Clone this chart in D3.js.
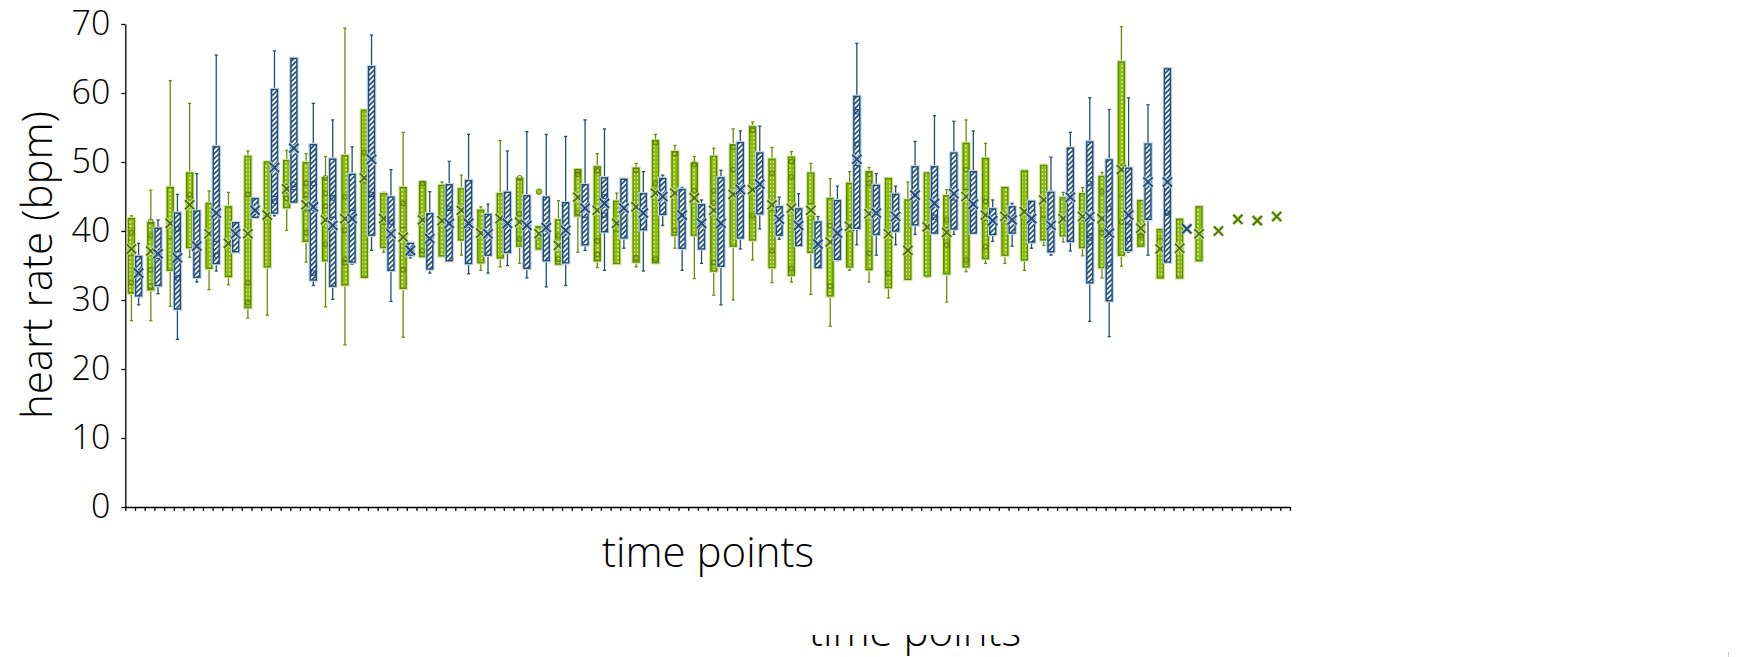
<!DOCTYPE html>
<html><head><meta charset="utf-8">
<script src="https://cdn.jsdelivr.net/npm/d3@7"></script>
<style>
html,body{margin:0;padding:0;background:#fff;}
svg{display:block;}
text{font-family:"Open Sans",sans-serif;font-weight:300;fill:#000;}
</style></head><body>
<svg id="chart" width="1759" height="657"></svg>
<script>
// ---------------- data ----------------
const categories = ["1","2","3","4","5","6","7","8","9","10","11","12","13","14","15","16","17","18","19","20",
"21","22","23","24","25","26","27","28","29","30","31","32","33","34","35","36","37","38","39","40",
"41","42","43","44","45","46","47","48","49","50","51","52","53","54","55","56","57","58","59","60"];
const yTickValues = [0,10,20,30,40,50,60,70];

const greenMin = [27.0,27.0,29.1,36.2,31.5,32.2,27.4,27.8,40.1,35.5,29.0,23.5,33.3,36.9,24.6,36.3,36.4,36.5,34.3,34.8,
35.3,37.4,35.2,36.9,34.7,35.3,34.8,35.4,37.5,33.1,30.7,30.0,35.8,32.5,32.6,30.8,26.2,34.3,32.6,30.3,
33.0,33.3,29.7,34.1,35.3,35.3,34.3,37.9,38.4,36.4,33.2,34.9,37.8,33.2,33.2,35.7,40.0,41.7,41.5,42.1];
const greenQ1 = [31.0,31.5,34.3,37.6,34.6,33.4,28.9,34.8,43.4,38.5,35.7,32.2,33.3,37.6,31.7,36.3,36.4,38.7,35.4,36.1,
37.8,37.4,35.2,42.2,35.7,35.3,35.5,35.4,39.4,39.4,34.2,37.8,38.7,34.7,33.6,36.9,30.6,34.8,34.4,31.8,
33.0,33.5,33.8,34.8,36.0,36.5,35.8,38.7,39.3,37.6,34.7,36.5,37.8,33.2,33.2,35.7,40.0,41.7,41.5,42.1];
const greenMedian = [36.5,37.0,38.9,43.5,39.5,38.0,40.0,42.0,45.5,43.5,41.5,42.0,47.0,41.0,40.5,42.0,41.5,43.5,39.5,41.5,
41.0,39.0,38.0,44.5,43.0,40.0,44.0,46.0,45.5,44.5,43.0,45.0,46.0,43.0,43.0,44.0,38.5,40.0,42.5,40.0,
37.0,40.5,40.5,46.0,41.5,41.5,42.5,42.0,41.5,41.5,40.0,45.0,39.5,38.9,37.5,40.0,40.0,41.7,41.5,42.1];
const greenQ3 = [41.8,41.2,46.3,48.4,44.0,43.5,50.8,50.0,50.2,49.9,47.7,50.9,57.5,45.4,46.3,47.1,46.6,46.1,43.0,45.4,
47.6,40.6,41.6,48.9,49.3,44.3,49.1,53.1,51.5,49.8,50.8,52.5,55.1,50.4,50.7,48.4,44.7,46.9,48.6,47.6,
44.5,48.4,45.1,52.7,50.5,46.3,48.7,49.5,44.8,45.4,47.9,64.5,44.4,40.2,41.7,43.5,40.0,41.7,41.5,42.1];
const greenMax = [42.2,45.9,61.8,58.5,45.8,45.6,51.6,50.0,51.7,51.2,50.8,69.4,57.5,45.6,54.3,47.1,47.1,48.1,43.5,53.1,
47.6,40.6,44.4,48.9,51.2,45.5,49.8,54.0,52.4,50.8,52.0,54.8,55.8,52.1,51.5,49.8,47.6,48.6,49.2,47.6,
47.1,48.4,46.0,56.1,52.7,46.3,48.7,49.5,45.6,46.3,48.5,69.6,44.4,40.2,41.7,43.5,40.0,41.7,41.5,42.1];
const greenMean = [37.4,37.1,41.1,43.8,39.6,38.2,39.6,42.3,46.1,43.8,41.6,41.8,47.7,41.8,39.1,41.6,41.5,43.0,39.7,41.8,
41.3,39.6,37.9,44.9,43.0,41.1,43.5,45.5,45.5,44.8,43.0,45.3,46.0,43.8,43.3,43.0,38.4,40.7,42.5,39.6,
37.2,40.6,39.8,45.0,42.3,42.1,42.8,44.5,41.8,42.1,41.8,48.9,40.4,37.4,37.5,39.6,40.0,41.7,41.5,42.1];
const greenPoints = [[39.8,32.5],[41.4,39.3,34.4,32.0],[],[45.2,44.2],[],[],[45.3,32.5,29.6],[],[44.7,46.4],[46.9,45.2,43.3,39.8],
[47.7,45.5,43.6,38.1],[45.0,40.1,35.9,35.4],[51.4],[],[44.0,34.4],[46.9,37.1],[],[],[],[],
[47.7,42.5,38.8],[],[39.3,35.9],[48.6,48.2,42.7],[48.7,38.6,36.6],[],[48.8,43.6,36.1],[52.8,46.9,35.9],[51.2,45.3,40.1],[49.7,45.8],
[45.8,44.0,35.4],[52.1,48.9],[54.6,42.2],[48.4,37.1],[50.1,47.9,34.6],[],[40.8,32.0],[],[48.2,46.9,36.8],[33.9],
[],[],[41.6,38.0],[48.9,35.8],[44.3,37.7],[],[],[],[],[],
[45.7,39.8],[49.2,41.3],[39.3],[],[],[],[],[],[],[]];
const greenOutliers = [[],[],[],[],[],[],[],[],[],[],[],[],[],[],[],[],[],[],[],[],
[],[45.7],[],[],[],[],[],[],[],[],[],[],[],[],[],[],[],[],[],[],
[],[],[],[],[],[],[],[],[],[],[],[],[],[],[],[],[],[],[],[]];

const blueMin = [29.3,30.9,24.3,32.6,34.2,37.0,42.0,42.2,44.2,32.1,30.1,35.2,37.2,29.8,36.1,33.9,35.7,33.8,33.9,35.0,
33.2,31.9,32.1,37.2,34.3,37.5,34.2,40.8,34.3,35.3,29.3,37.4,40.3,38.8,37.8,34.7,35.7,38.0,36.5,38.0,
39.5,39.7,39.5,39.7,38.5,37.8,37.5,36.5,37.1,26.9,24.7,36.9,36.5,35.5,40.3,null,null,null,null,null];
const blueQ1 = [30.6,32.1,28.7,33.3,35.3,37.0,42.0,42.6,44.2,32.9,32.0,35.5,39.4,34.3,36.5,34.5,35.7,35.3,36.5,36.9,
34.6,35.7,35.4,38.0,39.9,39.0,40.2,42.4,37.5,37.4,34.9,39.0,42.5,39.4,37.9,34.7,35.9,40.4,39.5,40.0,
40.9,39.7,40.3,39.7,39.5,39.7,38.4,37.0,38.5,32.5,29.9,37.2,41.7,35.5,40.3,null,null,null,null,null];
const blueMedian = [33.5,36.0,37.0,38.0,38.5,40.0,43.0,45.0,46.0,43.0,42.0,43.0,45.0,40.0,37.0,39.0,43.0,40.5,39.5,41.0,
41.0,40.0,40.0,42.0,43.5,43.0,42.5,45.0,42.0,41.0,41.0,45.5,46.5,41.5,40.5,38.0,39.5,49.5,42.5,42.0,
45.0,44.0,44.5,44.0,41.5,41.5,41.5,40.5,44.5,41.0,40.0,41.0,47.0,42.5,40.3,null,null,null,null,null];
const blueQ3 = [36.3,40.4,42.6,42.9,52.2,41.2,44.7,60.5,65.0,52.5,50.4,48.2,63.8,44.9,38.2,42.5,46.7,47.3,42.4,45.6,
45.1,44.9,44.1,46.7,47.7,47.5,45.4,47.6,46.0,43.8,47.7,52.8,51.3,43.5,43.2,41.3,44.4,59.5,46.6,45.3,
49.3,49.3,51.3,48.6,43.2,43.5,44.3,45.6,52.0,52.9,50.3,49.1,52.6,63.5,40.3,null,null,null,null,null];
const blueMax = [38.2,41.6,45.3,48.3,65.5,41.2,44.7,66.1,65.0,58.5,56.1,52.2,68.4,48.9,38.2,45.7,50.1,54.0,43.9,51.6,
54.4,54.0,53.7,56.1,54.8,47.5,48.6,48.1,46.3,44.5,48.8,54.5,55.2,44.9,45.4,42.1,46.5,67.2,48.3,46.5,
53.0,56.7,55.9,54.5,44.5,44.0,44.3,50.7,54.3,59.3,57.6,59.3,58.3,63.5,40.3,null,null,null,null,null];
const blueMean = [33.9,36.7,36.1,37.8,42.6,39.6,43.0,49.2,52.0,43.5,40.8,41.8,50.4,39.6,37.2,38.9,41.1,41.1,39.6,41.1,
40.8,40.5,40.1,43.3,44.0,43.3,42.6,45.0,42.3,41.1,41.1,46.0,46.8,41.7,40.8,38.1,39.7,50.4,42.6,42.1,
45.2,44.0,45.4,43.9,41.5,41.6,41.8,40.8,44.9,42.1,39.7,42.3,47.1,47.1,40.3,null,null,null,null,null];
const bluePoints = [[],[],[40.3,33.2],[],[36.5],[],[],[44.3],[46.7],[46.9,33.9],
[44.8],[],[45.3],[41.3],[],[],[43.3],[],[],[],
[],[],[],[],[45.0,42.3],[],[],[],[],[],
[],[],[],[],[],[],[],[57.3,52.6],[],[],
[],[42.0],[],[],[],[],[],[],[],[46.9,39.3,38.4],
[43.3,35.2],[38.8],[],[42.6],[],[],[],[],[],[]];

// ---------------- layout ----------------
const svg = d3.select("#chart");
const plotLeft = 125.3, plotRight = 1290, yBottom = 507, yTop = 24;
const x = d3.scaleBand().domain(categories).range([plotLeft, plotRight]).paddingInner(0).paddingOuter(0);
const sub = d3.scaleBand().domain(["green","blue"]).range([0, x.bandwidth()]).paddingInner(0).paddingOuter(0.35);
const y = d3.scaleLinear().domain([0,70]).range([yBottom, yTop]);

const styles = {
  green: {fill:"url(#patGreen)", stroke:"#5e8a00", halo:"#d3e6a4", whisker:"#6b8e00", mean:"#4f7400", pt:"#5b7f00"},
  blue:  {fill:"url(#patBlue)",  stroke:"#1f4e79", halo:"#c2d2e4", whisker:"#1f4e79", mean:"#1f4e79", pt:"#1f4e79"}
};

// patterns
const defs = svg.append("defs");
const pg = defs.append("pattern").attr("id","patGreen").attr("patternUnits","userSpaceOnUse")
  .attr("width",4).attr("height",4);
pg.append("rect").attr("width",4).attr("height",4).attr("fill","#8cbf06");
pg.append("rect").attr("x",1).attr("y",1.5).attr("width",2).attr("height",1).attr("fill","#ffffff");
const pb = defs.append("pattern").attr("id","patBlue").attr("patternUnits","userSpaceOnUse")
  .attr("width",3.6).attr("height",3.6).attr("patternTransform","rotate(45)");
pb.append("rect").attr("width",3.6).attr("height",3.6).attr("fill","#ffffff");
pb.append("rect").attr("x",0).attr("y",0).attr("width",1.7).attr("height",3.6).attr("fill","#1f4e79");
defs.append("clipPath").attr("id","clipDup").append("rect")
  .attr("x",0).attr("y",635).attr("width",1759).attr("height",30);

// axes
const yAxis = d3.axisLeft(y).tickValues(yTickValues).tickSize(4).tickSizeOuter(0).tickPadding(11);
const gy = svg.append("g").attr("transform",`translate(${plotLeft},0)`).call(yAxis);
gy.selectAll("text").style("font-size","34px").attr("fill","#000");
gy.selectAll("line,path").attr("stroke","#000").attr("stroke-width",1.3);

const tickIdx = d3.range(categories.length*2+1);
const xt = d3.scalePoint().domain(tickIdx).range([plotLeft, plotRight]);
const xAxis = d3.axisBottom(xt).tickSize(4).tickSizeOuter(0).tickFormat("");
const gx = svg.append("g").attr("transform",`translate(0,${yBottom})`).call(xAxis);
gx.selectAll("line,path").attr("stroke","#000").attr("stroke-width",1.3);

// series build
function series(key, mins, q1s, meds, q3s, maxs, means, pts, outs) {
  return categories.map((c,i)=>({cat:c, key, min:mins[i], q1:q1s[i], med:meds[i], q3:q3s[i], max:maxs[i], mean:means[i],
    pts: pts ? pts[i] : [], outs: outs ? outs[i] : []})).filter(d=>d.mean!==null);
}
const all = [
  ...series("green", greenMin, greenQ1, greenMedian, greenQ3, greenMax, greenMean, greenPoints, greenOutliers),
  ...series("blue", blueMin, blueQ1, blueMedian, blueQ3, blueMax, blueMean, bluePoints, null)
];

const bw = sub.bandwidth()*0.82;
const g = svg.append("g");
all.forEach(d=>{
  const st = styles[d.key];
  const cx = x(d.cat) + sub(d.key) + sub.bandwidth()/2;
  const gg = g.append("g");
  if (d.max > d.q3) {
    gg.append("line").attr("x1",cx).attr("x2",cx).attr("y1",y(d.q3)).attr("y2",y(d.max)).attr("stroke",st.whisker).attr("stroke-width",1.3);
    gg.append("line").attr("x1",cx-1.6).attr("x2",cx+1.6).attr("y1",y(d.max)).attr("y2",y(d.max)).attr("stroke",st.whisker).attr("stroke-width",1.3);
  }
  if (d.min < d.q1) {
    gg.append("line").attr("x1",cx).attr("x2",cx).attr("y1",y(d.q1)).attr("y2",y(d.min)).attr("stroke",st.whisker).attr("stroke-width",1.3);
    gg.append("line").attr("x1",cx-1.6).attr("x2",cx+1.6).attr("y1",y(d.min)).attr("y2",y(d.min)).attr("stroke",st.whisker).attr("stroke-width",1.3);
  }
  if (d.q3 > d.q1) {
    gg.append("rect").attr("x",cx-bw/2).attr("y",y(d.q3)).attr("width",bw).attr("height",y(d.q1)-y(d.q3))
      .attr("fill","none").attr("stroke",st.halo).attr("stroke-width",3.6);
    gg.append("rect").attr("x",cx-bw/2).attr("y",y(d.q3)).attr("width",bw).attr("height",y(d.q1)-y(d.q3))
      .attr("fill",st.fill).attr("stroke",st.stroke).attr("stroke-width",1.4);
    gg.append("line").attr("x1",cx-bw/2).attr("x2",cx+bw/2).attr("y1",y(d.med)).attr("y2",y(d.med))
      .attr("stroke",st.stroke).attr("stroke-width",1.2);
  }
  d.pts.forEach(v=>{
    gg.append("circle").attr("cx",cx).attr("cy",y(v)).attr("r",2.3).attr("fill","none")
      .attr("stroke",st.pt).attr("stroke-width",1.1).attr("stroke-opacity",0.9);
  });
  d.outs.forEach(v=>{
    gg.append("circle").attr("cx",cx).attr("cy",y(v)).attr("r",2.8).attr("fill","#9cc42a")
      .attr("stroke",st.stroke).attr("stroke-width",1);
  });
  const m = y(d.mean), s = 4.6;
  const dpath = `M${cx-s},${m-s}L${cx+s},${m+s}M${cx-s},${m+s}L${cx+s},${m-s}`;
  gg.append("path").attr("d",dpath).attr("stroke",st.halo).attr("stroke-width",3.8).attr("fill","none");
  gg.append("path").attr("d",dpath).attr("stroke",st.mean).attr("stroke-width",2).attr("fill","none");
});

// titles
svg.append("text").attr("x",708).attr("y",567).attr("text-anchor","middle").style("font-size","42px").text("time points");
svg.append("text").attr("transform","translate(37,265) rotate(-90)").attr("text-anchor","middle")
  .attr("dy","0.35em").style("font-size","42px").text("heart rate (bpm)");
svg.append("text").attr("x",915).attr("y",646).attr("text-anchor","middle").attr("clip-path","url(#clipDup)")
  .style("font-size","42px").text("time points");
svg.append("line").attr("x1",1728.5).attr("x2",1728.5).attr("y1",652).attr("y2",657).attr("stroke","#cccccc").attr("stroke-width",1);
</script>
</body></html>
